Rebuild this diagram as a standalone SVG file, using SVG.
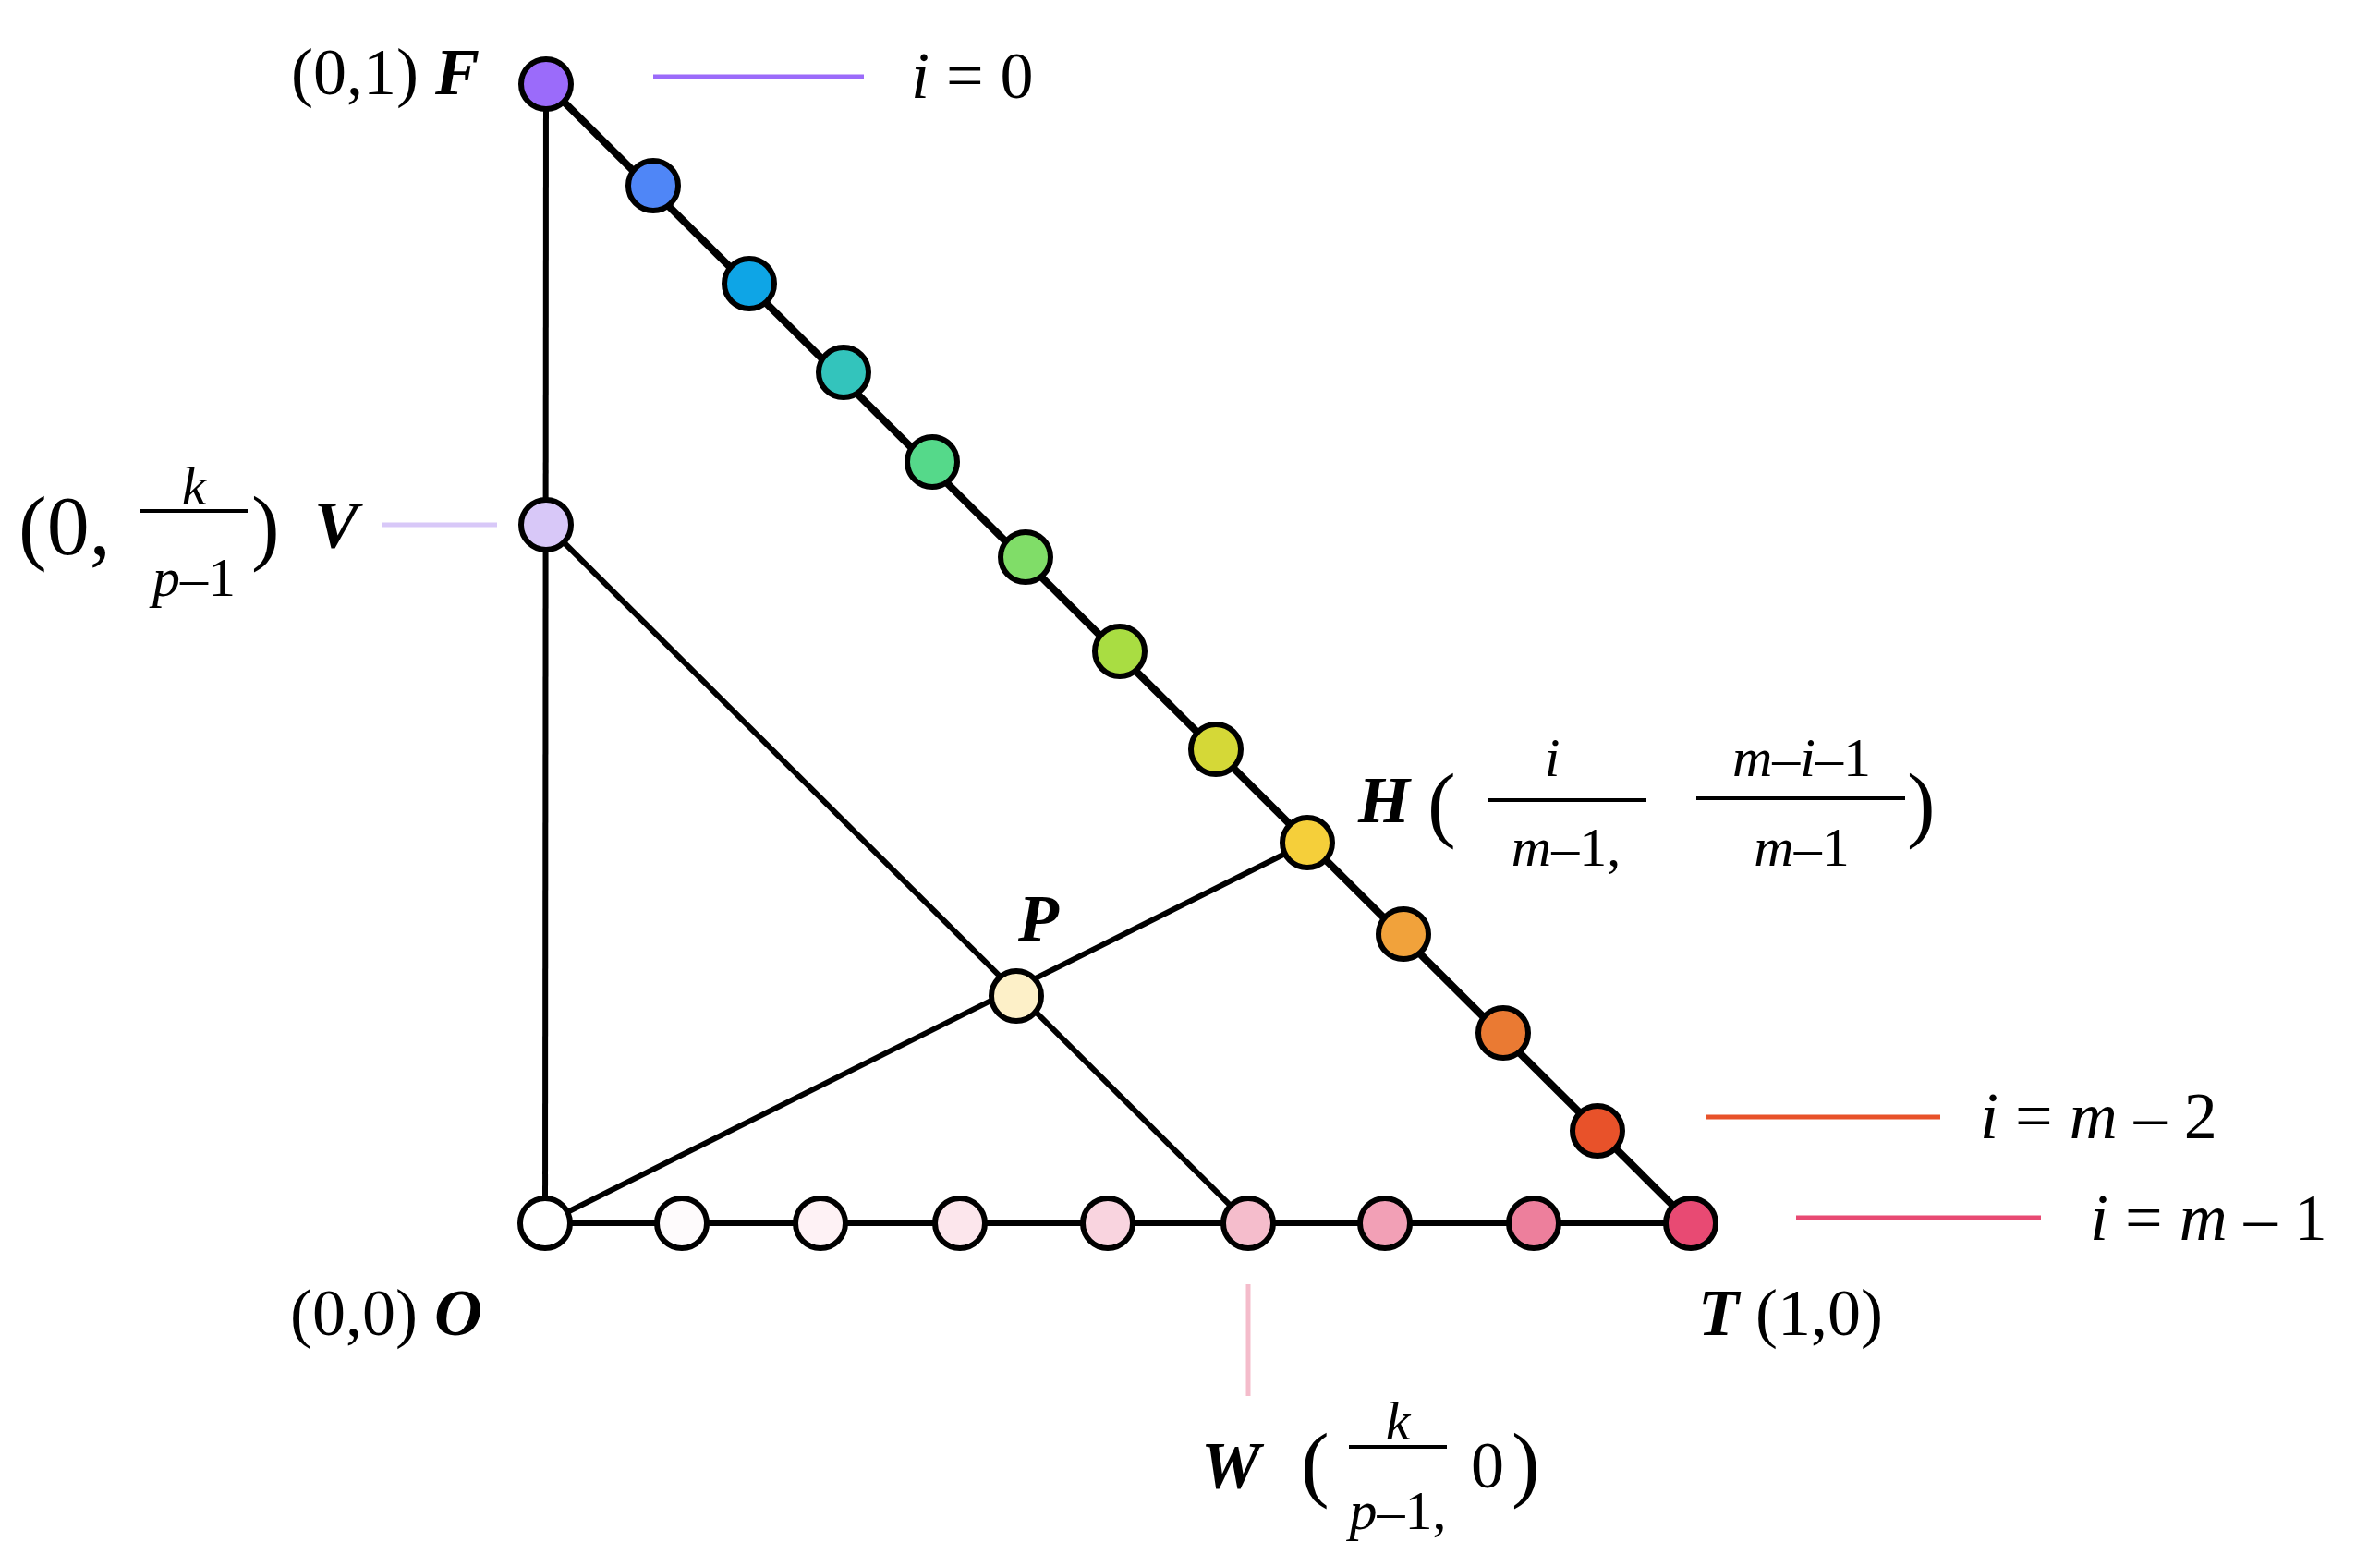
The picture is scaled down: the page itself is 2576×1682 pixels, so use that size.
<svg xmlns="http://www.w3.org/2000/svg" width="2576" height="1682" viewBox="0 0 2576 1682">
<style>
.t{font-family:"Liberation Serif",serif;font-size:72px;fill:#000}
.p{font-size:92px}
.f{font-family:"Liberation Serif",serif;font-size:60px;fill:#000;font-style:italic}
.it{font-style:italic}
.b{font-style:italic;font-weight:bold}
.bar{stroke:#000;stroke-width:4}
.n{stroke:#000;stroke-width:6}
.e{stroke:#000;fill:none}
</style>
<rect width="2576" height="1682" fill="#fff"/>
<g id="connectors">
<line class="e" stroke-width="6" x1="591" y1="91" x2="590" y2="1324"/>
<line class="e" stroke-width="6" x1="590" y1="1324" x2="1830" y2="1324"/>
<line class="e" stroke-width="8" x1="591" y1="91" x2="1830" y2="1324"/>
<line class="e" stroke-width="6" x1="591" y1="568" x2="1351" y2="1324"/>
<line class="e" stroke-width="6" x1="590" y1="1324" x2="1415" y2="912"/>
<line stroke="#9b6bfa" stroke-width="5" x1="707" y1="83" x2="935" y2="83"/>
<line stroke="#d8c8f8" stroke-width="5" x1="413" y1="568" x2="538" y2="568"/>
<line stroke="#e8522a" stroke-width="5" x1="1846" y1="1209" x2="2100" y2="1209"/>
<line stroke="#e84a73" stroke-width="5" x1="1944" y1="1318" x2="2209" y2="1318"/>
<line stroke="#f4bccb" stroke-width="5" x1="1351" y1="1390" x2="1351" y2="1511"/>
</g>
<g id="diag">
<circle class="n" cx="591" cy="91" r="27" fill="#9b6bfa"/>
<circle class="n" cx="707" cy="201" r="27" fill="#4f86f7"/>
<circle class="n" cx="811" cy="307" r="27" fill="#0ea5e6"/>
<circle class="n" cx="913" cy="403" r="27" fill="#33c4bc"/>
<circle class="n" cx="1009" cy="500" r="27" fill="#55d98a"/>
<circle class="n" cx="1110" cy="603" r="27" fill="#80dd68"/>
<circle class="n" cx="1212" cy="705" r="27" fill="#a9dd42"/>
<circle class="n" cx="1316" cy="811" r="27" fill="#d5d837"/>
<circle class="n" cx="1415" cy="912" r="27" fill="#f5cf3a"/>
<circle class="n" cx="1519" cy="1011" r="27" fill="#f1a23b"/>
<circle class="n" cx="1627" cy="1118" r="27" fill="#ea7a33"/>
<circle class="n" cx="1729" cy="1224" r="27" fill="#e8522a"/>
<circle class="n" cx="1830" cy="1324" r="27" fill="#e84a73"/>
</g>
<g id="bottom">
<circle class="n" cx="590" cy="1324" r="27" fill="#ffffff"/>
<circle class="n" cx="738" cy="1324" r="27" fill="#fefbfc"/>
<circle class="n" cx="888" cy="1324" r="27" fill="#fef2f5"/>
<circle class="n" cx="1039" cy="1324" r="27" fill="#fce6ec"/>
<circle class="n" cx="1199" cy="1324" r="27" fill="#f9d4df"/>
<circle class="n" cx="1351" cy="1324" r="27" fill="#f5bdcc"/>
<circle class="n" cx="1499" cy="1324" r="27" fill="#f2a0b6"/>
<circle class="n" cx="1660" cy="1324" r="27" fill="#ed7f9c"/>
</g>
<g id="V"><circle class="n" cx="591" cy="568" r="27" fill="#d8c8f8"/></g>
<g id="P"><circle class="n" cx="1100" cy="1078" r="27" fill="#fdf0c8"/></g>
<g id="labels">
<text class="t" x="315" y="102">(0,1) <tspan class="b">F</tspan></text>
<text class="t" x="986" y="106"><tspan class="it">i</tspan> = 0</text>
<text class="t p" x="20" y="600">(0,</text>
<text class="f" x="210" y="546" text-anchor="middle">k</text>
<line class="bar" x1="152" y1="553" x2="268" y2="553"/>
<text class="f" x="210" y="645" text-anchor="middle">p<tspan font-style="normal">–1</tspan></text>
<text class="t p" x="272" y="600">)</text>
<text class="t b" x="340" y="592">V</text>
<text class="t b" x="1102" y="1018">P</text>
<text class="t b" x="1470" y="890">H</text>
<text class="t p" x="1545" y="900">(</text>
<text class="f" x="1680" y="840" text-anchor="middle">i</text>
<line class="bar" x1="1610" y1="866" x2="1782" y2="866"/>
<text class="f" x="1695" y="937" text-anchor="middle">m<tspan font-style="normal">–1,</tspan></text>
<text class="f" x="1950" y="840" text-anchor="middle">m<tspan font-style="normal">–</tspan>i<tspan font-style="normal">–1</tspan></text>
<line class="bar" x1="1836" y1="864" x2="2062" y2="864"/>
<text class="f" x="1950" y="937" text-anchor="middle">m<tspan font-style="normal">–1</tspan></text>
<text class="t p" x="2064" y="900">)</text>
<text class="t" x="2143" y="1232"><tspan class="it">i</tspan> = <tspan class="it">m</tspan> – 2</text>
<text class="t" x="2262" y="1342"><tspan class="it">i</tspan> = <tspan class="it">m</tspan> – 1</text>
<text class="t" x="314" y="1445">(0,0) <tspan class="b">O</tspan></text>
<text class="t" x="1838" y="1445"><tspan class="b">T</tspan> (1,0)</text>
<text class="t b" x="1300" y="1610">W</text>
<text class="t p" x="1408" y="1614">(</text>
<text class="f" x="1513" y="1558" text-anchor="middle">k</text>
<line class="bar" x1="1460" y1="1566" x2="1566" y2="1566"/>
<text class="f" x="1513" y="1655" text-anchor="middle">p<tspan font-style="normal">–1,</tspan></text>
<text class="t" x="1592" y="1610">0</text>
<text class="t p" x="1636" y="1614">)</text>
</g>
</svg>
